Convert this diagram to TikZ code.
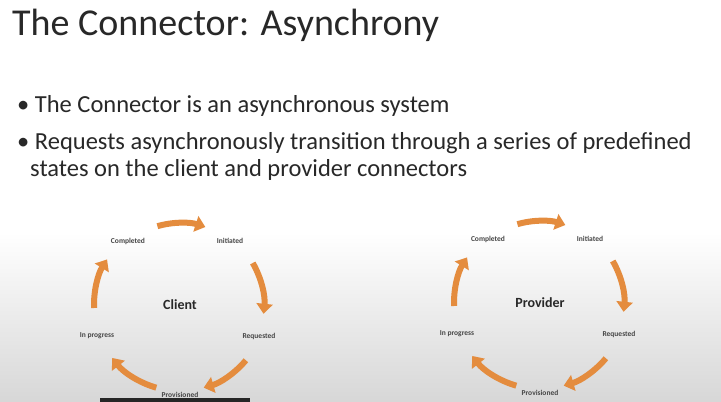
\documentclass[tikz,border=0pt]{standalone}
\usepackage{fontspec}
\setmainfont{Carlito}
\usetikzlibrary{arrows.meta}
\begin{document}
\begin{tikzpicture}[x=1pt,y=1pt,
  arr/.style={line width=6pt,draw={rgb,255:red,228;green,140;blue,62},-{Triangle[length=10pt,width=16pt]}},
  lbl/.style={font=\fontsize{7.5}{8}\selectfont\bfseries,text={rgb,255:red,70;green,70;blue,70}},
  ctr/.style={font=\fontsize{14}{16}\selectfont\bfseries,text={rgb,255:red,40;green,40;blue,40}},
  bul/.style={font=\fontsize{24.5}{28}\selectfont,text={rgb,255:red,40;green,40;blue,40},anchor=base west,align=left}]
\useasboundingbox (0,0) rectangle (721,402);
\fill[white] (0,0) rectangle (721,402);
\shade[top color=white,bottom color={rgb,255:red,215;green,215;blue,215}] (0,0) rectangle (721,170);
\node[font=\fontsize{38}{40}\selectfont,text={rgb,255:red,40;green,40;blue,40},anchor=base west,inner sep=0] (title) at (12,366) {The Connector: Asynchrony};
\node[bul,inner sep=0] (b1) at (17,289) {\textbullet\ The Connector is an asynchronous system};
\node[bul,inner sep=0] (b2) at (17,252) {\textbullet\ Requests asynchronously transition through a series of predefined};
\node[bul,inner sep=0] (b3) at (30,225) {states on the client and provider connectors};
\foreach \cx/\cy/\nm/\lab in {180/97/c/Client,540/99/p/Provider}{
  \coordinate (\nm o) at (\cx,\cy);
  \node[ctr] (\nm ctr) at (\cx,\cy) {\lab};
  \node[lbl] (\nm comp) at (\cx-52,\cy+64) {Completed};
  \node[lbl] (\nm init) at (\cx+50,\cy+64) {Initiated};
  \node[lbl] (\nm req) at (\cx+79,\cy-31) {Requested};
  \node[lbl] (\nm prov) at (\cx,\cy-90) {Provisioned};
  \node[lbl] (\nm prog) at (\cx-83,\cy-31) {In progress};
  \draw[arr] (\nm o) ++(106:82) arc (106:72:82);
  \draw[arr] (\nm o) ++(30:84) arc (30:-6:84);
  \draw[arr] (\nm o) ++(-40:86) arc (-40:-74:86);
  \draw[arr] (\nm o) ++(-106:86) arc (-106:-142:86);
  \draw[arr] (\nm o) ++(182:86) arc (182:148:86);
}
\fill[black!85] (100,0) rectangle (250,4);
\end{tikzpicture}
\end{document}
